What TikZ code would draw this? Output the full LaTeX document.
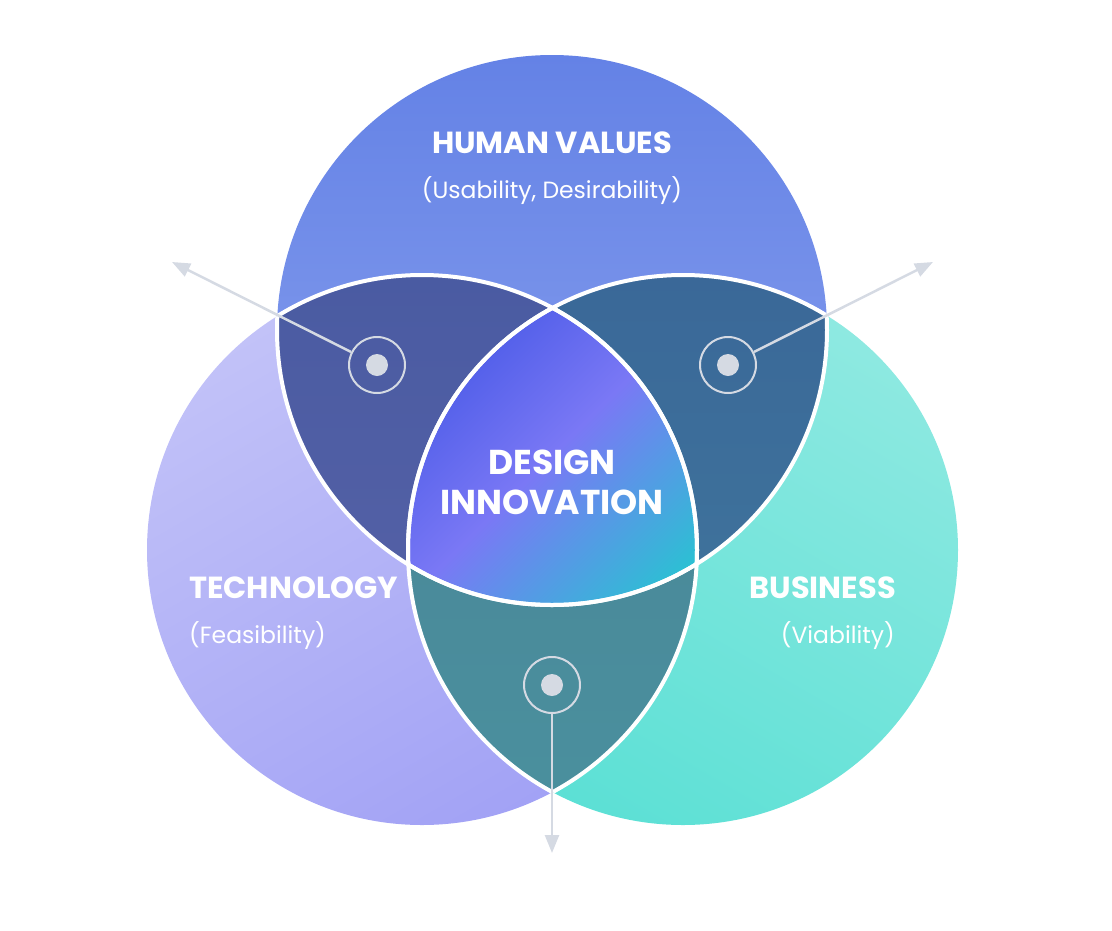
\documentclass[tikz,border=0pt]{standalone}
\usepackage{fontspec}
\setmainfont{Poppins}
\usetikzlibrary{arrows.meta}

\definecolor{topA}{HTML}{6482E6}
\definecolor{topB}{HTML}{8CA3EE}
\definecolor{techA}{HTML}{C2C2F8}
\definecolor{techB}{HTML}{A2A2F5}
\definecolor{busA}{HTML}{8EE9E1}
\definecolor{busB}{HTML}{5CE0D5}
\definecolor{htA}{HTML}{4A5BA2}
\definecolor{htB}{HTML}{5A64A8}
\definecolor{hbA}{HTML}{3A6898}
\definecolor{hbB}{HTML}{427A9E}
\definecolor{tbA}{HTML}{4A8496}
\definecolor{tbB}{HTML}{4A909E}
\definecolor{diA}{HTML}{3A50E2}
\definecolor{diB}{HTML}{7A78F5}
\definecolor{diC}{HTML}{22C9CF}
\definecolor{mark}{HTML}{D5DAE3}

\tikzset{
  title/.style={text=white, font=\bfseries\fontsize{30.5}{33}\selectfont, inner sep=0pt},
  subtitle/.style={text=white, font=\fontsize{23.5}{26}\selectfont, inner sep=0pt},
  ring/.style={draw=mark, line width=2pt, circle, minimum size=56pt, inner sep=0pt},
  dot/.style={fill=mark, circle, minimum size=22pt, inner sep=0pt},
  pointer/.style={draw=mark, line width=2.5pt, -{Triangle[length=18pt, width=14pt]}},
  edge/.style={draw=white, line width=4pt}
}

\begin{document}
\begin{tikzpicture}[x=1pt, y=-1pt]
    \useasboundingbox (0,0) rectangle (1112,930);

    % circle centres
    \coordinate (human) at (552,330);
    \coordinate (tech) at (422,550);
    \coordinate (bus) at (683,550);
    \def\rad{275}

    % Draw circles
    \shade[top color=topA, bottom color=topB] (human) circle (\rad);
    \shade[top color=techA, bottom color=techB, shading angle=30] (tech) circle (\rad);
    \shade[top color=busA, bottom color=busB, shading angle=-30] (bus) circle (\rad);

    % overlaps
    \begin{scope}
        \clip (human) circle (\rad);
        \shade[top color=htA, bottom color=htB] (tech) circle (\rad);
    \end{scope}
    \begin{scope}
        \clip (human) circle (\rad);
        \shade[top color=hbA, bottom color=hbB] (bus) circle (\rad);
    \end{scope}
    \begin{scope}
        \clip (tech) circle (\rad);
        \shade[top color=tbA, bottom color=tbB] (bus) circle (\rad);
    \end{scope}
    \begin{scope}
        \clip (human) circle (\rad);
        \clip (tech) circle (\rad);
        \clip (bus) circle (\rad);
        \shade[top color=diA, bottom color=diC, middle color=diB, shading angle=45]
            (552,455) circle (200);
    \end{scope}

    % white edges
    \begin{scope}
        \clip (tech) circle (\rad);
        \draw[edge] (human) circle (\rad);
        \draw[edge] (bus) circle (\rad);
    \end{scope}
    \begin{scope}
        \clip (bus) circle (\rad);
        \draw[edge] (human) circle (\rad);
        \draw[edge] (tech) circle (\rad);
    \end{scope}
    \begin{scope}
        \clip (human) circle (\rad);
        \draw[edge] (tech) circle (\rad);
        \draw[edge] (bus) circle (\rad);
    \end{scope}

    % Draw markers
    \node[ring] (m1) at (377,365) {};
    \node[ring] (m2) at (728,365) {};
    \node[ring] (m3) at (552,685) {};
    \node[dot] at (m1) {};
    \node[dot] at (m2) {};
    \node[dot] at (m3) {};

    \coordinate (p1) at (172,262);
    \coordinate (p2) at (933,262);
    \coordinate (p3) at (552,853);
    \draw[pointer] (m1) -- (p1);
    \draw[pointer] (m2) -- (p2);
    \draw[pointer] (m3) -- (p3);

    % labels
    \node[title] (hv) at (552,143) {HUMAN VALUES};
    \node[subtitle] (hvs) at (552,191) {(Usability, Desirability)};
    \node[title, anchor=west] (te) at (189,588) {TECHNOLOGY};
    \node[subtitle, anchor=west] (tes) at (189,636) {(Feasibility)};
    \node[title, anchor=east] (bu) at (896,588) {BUSINESS};
    \node[subtitle, anchor=east] (bus) at (895,636) {(Viability)};
    \node[title, font=\bfseries\fontsize{34.5}{37}\selectfont] (di1) at (552,462) {DESIGN};
    \node[title, font=\bfseries\fontsize{34.5}{37}\selectfont] (di2) at (552,502) {INNOVATION};
\end{tikzpicture}
\end{document}
